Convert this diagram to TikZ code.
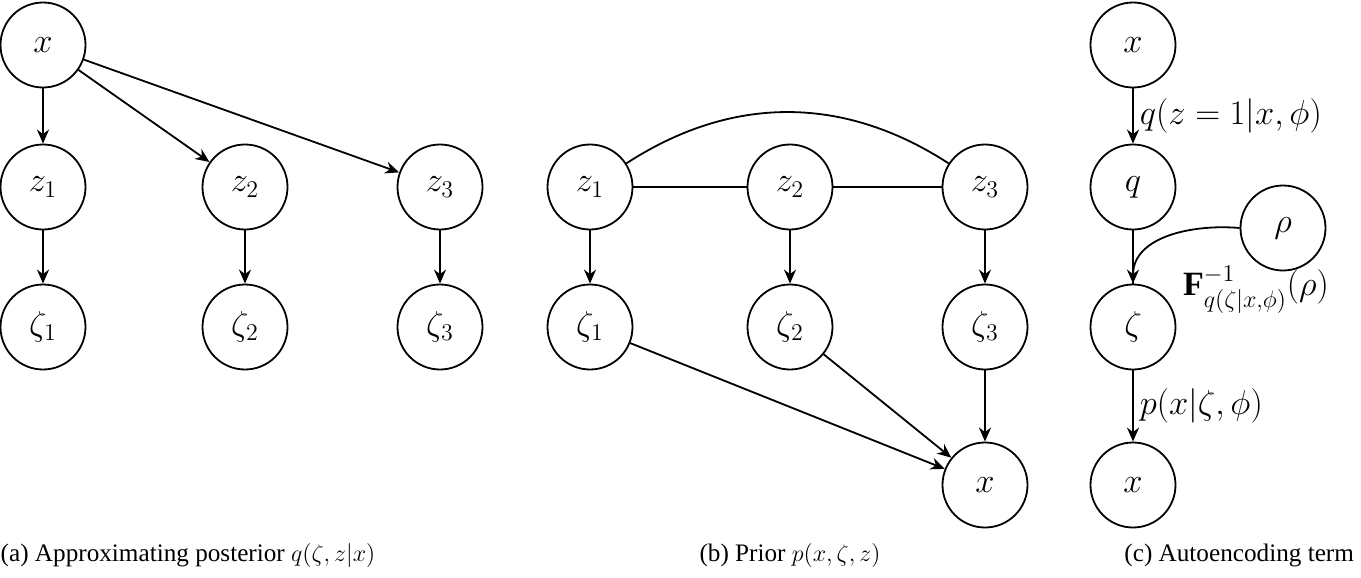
\documentclass[tikz,border=0pt]{standalone}
\usepackage{fontspec}
\setmainfont{Liberation Serif}
\usepackage{amsmath}
\usetikzlibrary{arrows.meta}
\begin{document}
\begin{tikzpicture}[x=0.5pt,y=-0.5pt,
  v/.style={circle,draw,line width=0.9pt,minimum size=42.5pt,inner sep=0pt,font=\fontsize{17}{20}\selectfont},
  arr/.style={-{Stealth[length=7pt,width=6pt]},line width=0.9pt},
  ln/.style={line width=0.9pt},
  lab/.style={font=\fontsize{17}{20}\selectfont},
  captxt/.style={font=\fontsize{12.6}{15}\selectfont}]
\useasboundingbox (0,0) rectangle (1361,578);
% (a)
\node[v] (ax) at (43,45) {$x$};
\node[v] (az1) at (43,187) {$z_1$};
\node[v] (az2) at (245,187) {$z_2$};
\node[v] (az3) at (440,187) {$z_3$};
\node[v] (ak1) at (43,327) {$\zeta_1$};
\node[v] (ak2) at (245,327) {$\zeta_2$};
\node[v] (ak3) at (440,327) {$\zeta_3$};
\draw[arr] (ax)--(az1); \draw[arr] (ax)--(az2); \draw[arr] (ax)--(az3);
\draw[arr] (az1)--(ak1); \draw[arr] (az2)--(ak2); \draw[arr] (az3)--(ak3);
\node[captxt] (ca) at (188,555) {(a) Approximating posterior $q(\zeta,z|x)$};
% (b)
\node[v] (bz1) at (590,187) {$z_1$};
\node[v] (bz2) at (790,187) {$z_2$};
\node[v] (bz3) at (985,187) {$z_3$};
\node[v] (bk1) at (590,327) {$\zeta_1$};
\node[v] (bk2) at (790,327) {$\zeta_2$};
\node[v] (bk3) at (985,327) {$\zeta_3$};
\node[v] (bx) at (985,485) {$x$};
\draw[ln] (bz1)--(bz2); \draw[ln] (bz2)--(bz3);
\draw[ln] (bz1) to[bend left=33] (bz3);
\draw[arr] (bz1)--(bk1); \draw[arr] (bz2)--(bk2); \draw[arr] (bz3)--(bk3);
\draw[arr] (bk1)--(bx); \draw[arr] (bk2)--(bx); \draw[arr] (bk3)--(bx);
\node[captxt] (cb) at (790,555) {(b) Prior $p(x,\zeta,z)$};
% (c)
\node[v] (cx) at (1133,45) {$x$};
\node[v] (cq) at (1133,187) {$q$};
\node[v] (crho) at (1283,228) {$\rho$};
\node[v] (ck) at (1133,327) {$\zeta$};
\node[v] (cx2) at (1133,485) {$x$};
\draw[arr] (cx)--(cq) node[midway,right,lab,inner sep=3pt] {$q(z=1|x,\phi)$};
\draw[ln] (cq)--(ck);
\draw[arr] (crho.west) to[out=175,in=90] (ck.north);
\node[lab,anchor=west] (fl) at (1176,290) {$\mathbf{F}^{-1}_{q(\zeta|x,\phi)}(\rho)$};
\draw[arr] (ck)--(cx2) node[midway,right,lab,inner sep=3pt] {$p(x|\zeta,\phi)$};
\node[captxt,anchor=east] (cc) at (1361,555) {(c) Autoencoding term};
\end{tikzpicture}
\end{document}
